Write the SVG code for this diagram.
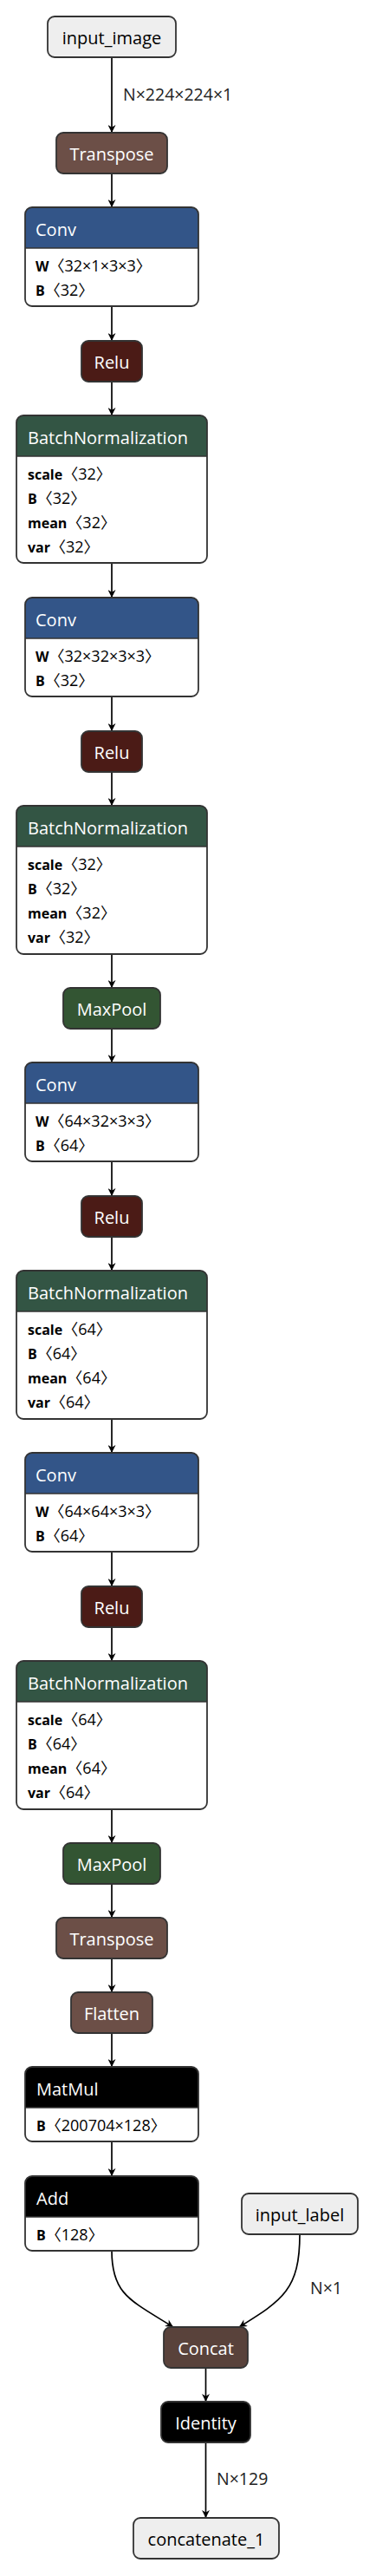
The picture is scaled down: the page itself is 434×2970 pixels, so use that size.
<svg xmlns="http://www.w3.org/2000/svg" width="434" height="2970" viewBox="0 0 434 2970">
<style>
.bg{fill:#fff}
.box{fill:none;stroke:#333;stroke-width:1.8}
.in{fill:#eee;stroke:#333;stroke-width:1.8}
.body{fill:#fff}
.sep{stroke:#333;stroke-width:1.5}
.t{font-family:"Open Sans","Noto Sans",sans-serif;font-size:20px}
.w{fill:#fff}
.k{fill:#000}
.c{text-anchor:middle}
.a{font-family:"Open Sans","Noto Sans","Noto Sans CJK SC",sans-serif;font-size:18px;fill:#000}
.a .n{font-weight:bold;font-size:16px}
.lbl{font-family:"Open Sans","Noto Sans",sans-serif;font-size:19.5px;fill:#222}
.e{fill:none;stroke:#000;stroke-width:1.7}
.layer{fill:#335588}.act{fill:#4b1b16}.norm{fill:#335544}.pool{fill:#335533}.shape{fill:#6c4f47}.tensor{fill:#59423b}.def{fill:#000}
</style>
<defs>
<marker id="arr" viewBox="0 0 10 10" refX="10" refY="5" markerWidth="10" markerHeight="9" markerUnits="userSpaceOnUse" orient="auto">
<path d="M0,0 L10,5 L0,10 L3,5 z" fill="#000"/>
</marker>
</defs>
<rect class="bg" x="0" y="0" width="434" height="2970"/>

<g id="edges">
<line class="e" x1="129" y1="66" x2="129" y2="153" marker-end="url(#arr)"/>
<text class="lbl" x="142" y="116">N×224×224×1</text>
<line class="e" x1="129" y1="200" x2="129" y2="239" marker-end="url(#arr)"/>
<line class="e" x1="129" y1="353" x2="129" y2="393" marker-end="url(#arr)"/>
<line class="e" x1="129" y1="440" x2="129" y2="479" marker-end="url(#arr)"/>
<line class="e" x1="129" y1="649" x2="129" y2="689" marker-end="url(#arr)"/>
<line class="e" x1="129" y1="803" x2="129" y2="843" marker-end="url(#arr)"/>
<line class="e" x1="129" y1="890" x2="129" y2="929" marker-end="url(#arr)"/>
<line class="e" x1="129" y1="1100" x2="129" y2="1139" marker-end="url(#arr)"/>
<line class="e" x1="129" y1="1186" x2="129" y2="1225" marker-end="url(#arr)"/>
<line class="e" x1="129" y1="1339" x2="129" y2="1379" marker-end="url(#arr)"/>
<line class="e" x1="129" y1="1426" x2="129" y2="1465" marker-end="url(#arr)"/>
<line class="e" x1="129" y1="1636" x2="129" y2="1675" marker-end="url(#arr)"/>
<line class="e" x1="129" y1="1789" x2="129" y2="1829" marker-end="url(#arr)"/>
<line class="e" x1="129" y1="1876" x2="129" y2="1915" marker-end="url(#arr)"/>
<line class="e" x1="129" y1="2086" x2="129" y2="2125" marker-end="url(#arr)"/>
<line class="e" x1="129" y1="2172" x2="129" y2="2211" marker-end="url(#arr)"/>
<line class="e" x1="129" y1="2258" x2="129" y2="2297" marker-end="url(#arr)"/>
<line class="e" x1="129" y1="2344" x2="129" y2="2383" marker-end="url(#arr)"/>
<line class="e" x1="129" y1="2469" x2="129" y2="2509" marker-end="url(#arr)"/>
<path class="e" d="M129,2595 C129,2645 150,2652 200,2683" marker-end="url(#arr)"/>
<path class="e" d="M346,2576 C346,2640 326,2652 276,2683" marker-end="url(#arr)"/>
<text class="lbl" x="358" y="2645">N×1</text>
<line class="e" x1="237.5" y1="2730" x2="237.5" y2="2769" marker-end="url(#arr)"/>
<line class="e" x1="237.5" y1="2816" x2="237.5" y2="2903" marker-end="url(#arr)"/>
<text class="lbl" x="250" y="2865">N×129</text>
</g>

<g id="input_image">
<rect class="in" x="55" y="19" width="148" height="47" rx="8"/>
<text class="t k c" x="129" y="51">input_image</text>
</g>

<g id="transpose_1">
<rect class="shape" x="65" y="153" width="128" height="47" rx="8"/>
<rect class="box" x="65" y="153" width="128" height="47" rx="8"/>
<text class="t w c" x="129" y="185">Transpose</text>
</g>

<g id="conv_1">
<rect class="body" x="29" y="239" width="200" height="114" rx="8"/>
<path class="layer" d="M29,286 V247 Q29,239 37,239 H221 Q229,239 229,247 V286 Z"/>
<line class="sep" x1="29" y1="286" x2="229" y2="286"/>
<rect class="box" x="29" y="239" width="200" height="114" rx="8"/>
<text class="t w" x="41" y="272">Conv</text>
<text class="a" x="41" y="313"><tspan class="n">W</tspan>〈32×1×3×3〉</text>
<text class="a" x="41" y="341"><tspan class="n">B</tspan>〈32〉</text>
</g>

<g id="relu_1">
<rect class="act" x="94" y="393" width="70" height="47" rx="8"/>
<rect class="box" x="94" y="393" width="70" height="47" rx="8"/>
<text class="t w c" x="129" y="425">Relu</text>
</g>

<g id="bn_1">
<rect class="body" x="19" y="479" width="220" height="170" rx="8"/>
<path class="norm" d="M19,526 V487 Q19,479 27,479 H231 Q239,479 239,487 V526 Z"/>
<line class="sep" x1="19" y1="526" x2="239" y2="526"/>
<rect class="box" x="19" y="479" width="220" height="170" rx="8"/>
<text class="t w" x="32" y="512">BatchNormalization</text>
<text class="a" x="32" y="553"><tspan class="n">scale</tspan>〈32〉</text>
<text class="a" x="32" y="581"><tspan class="n">B</tspan>〈32〉</text>
<text class="a" x="32" y="609"><tspan class="n">mean</tspan>〈32〉</text>
<text class="a" x="32" y="637"><tspan class="n">var</tspan>〈32〉</text>
</g>

<g id="conv_2">
<rect class="body" x="29" y="689" width="200" height="114" rx="8"/>
<path class="layer" d="M29,736 V697 Q29,689 37,689 H221 Q229,689 229,697 V736 Z"/>
<line class="sep" x1="29" y1="736" x2="229" y2="736"/>
<rect class="box" x="29" y="689" width="200" height="114" rx="8"/>
<text class="t w" x="41" y="722">Conv</text>
<text class="a" x="41" y="763"><tspan class="n">W</tspan>〈32×32×3×3〉</text>
<text class="a" x="41" y="791"><tspan class="n">B</tspan>〈32〉</text>
</g>

<g id="relu_2">
<rect class="act" x="94" y="843" width="70" height="47" rx="8"/>
<rect class="box" x="94" y="843" width="70" height="47" rx="8"/>
<text class="t w c" x="129" y="875">Relu</text>
</g>

<g id="bn_2">
<rect class="body" x="19" y="929" width="220" height="171" rx="8"/>
<path class="norm" d="M19,976 V937 Q19,929 27,929 H231 Q239,929 239,937 V976 Z"/>
<line class="sep" x1="19" y1="976" x2="239" y2="976"/>
<rect class="box" x="19" y="929" width="220" height="171" rx="8"/>
<text class="t w" x="32" y="962">BatchNormalization</text>
<text class="a" x="32" y="1003"><tspan class="n">scale</tspan>〈32〉</text>
<text class="a" x="32" y="1031"><tspan class="n">B</tspan>〈32〉</text>
<text class="a" x="32" y="1059"><tspan class="n">mean</tspan>〈32〉</text>
<text class="a" x="32" y="1087"><tspan class="n">var</tspan>〈32〉</text>
</g>

<g id="maxpool_1">
<rect class="pool" x="73" y="1139" width="112" height="47" rx="8"/>
<rect class="box" x="73" y="1139" width="112" height="47" rx="8"/>
<text class="t w c" x="129" y="1171">MaxPool</text>
</g>

<g id="conv_3">
<rect class="body" x="29" y="1225" width="200" height="114" rx="8"/>
<path class="layer" d="M29,1272 V1233 Q29,1225 37,1225 H221 Q229,1225 229,1233 V1272 Z"/>
<line class="sep" x1="29" y1="1272" x2="229" y2="1272"/>
<rect class="box" x="29" y="1225" width="200" height="114" rx="8"/>
<text class="t w" x="41" y="1258">Conv</text>
<text class="a" x="41" y="1299"><tspan class="n">W</tspan>〈64×32×3×3〉</text>
<text class="a" x="41" y="1327"><tspan class="n">B</tspan>〈64〉</text>
</g>

<g id="relu_3">
<rect class="act" x="94" y="1379" width="70" height="47" rx="8"/>
<rect class="box" x="94" y="1379" width="70" height="47" rx="8"/>
<text class="t w c" x="129" y="1411">Relu</text>
</g>

<g id="bn_3">
<rect class="body" x="19" y="1465" width="220" height="171" rx="8"/>
<path class="norm" d="M19,1512 V1473 Q19,1465 27,1465 H231 Q239,1465 239,1473 V1512 Z"/>
<line class="sep" x1="19" y1="1512" x2="239" y2="1512"/>
<rect class="box" x="19" y="1465" width="220" height="171" rx="8"/>
<text class="t w" x="32" y="1498">BatchNormalization</text>
<text class="a" x="32" y="1539"><tspan class="n">scale</tspan>〈64〉</text>
<text class="a" x="32" y="1567"><tspan class="n">B</tspan>〈64〉</text>
<text class="a" x="32" y="1595"><tspan class="n">mean</tspan>〈64〉</text>
<text class="a" x="32" y="1623"><tspan class="n">var</tspan>〈64〉</text>
</g>

<g id="conv_4">
<rect class="body" x="29" y="1675" width="200" height="114" rx="8"/>
<path class="layer" d="M29,1722 V1683 Q29,1675 37,1675 H221 Q229,1675 229,1683 V1722 Z"/>
<line class="sep" x1="29" y1="1722" x2="229" y2="1722"/>
<rect class="box" x="29" y="1675" width="200" height="114" rx="8"/>
<text class="t w" x="41" y="1708">Conv</text>
<text class="a" x="41" y="1749"><tspan class="n">W</tspan>〈64×64×3×3〉</text>
<text class="a" x="41" y="1777"><tspan class="n">B</tspan>〈64〉</text>
</g>

<g id="relu_4">
<rect class="act" x="94" y="1829" width="70" height="47" rx="8"/>
<rect class="box" x="94" y="1829" width="70" height="47" rx="8"/>
<text class="t w c" x="129" y="1861">Relu</text>
</g>

<g id="bn_4">
<rect class="body" x="19" y="1915" width="220" height="171" rx="8"/>
<path class="norm" d="M19,1962 V1923 Q19,1915 27,1915 H231 Q239,1915 239,1923 V1962 Z"/>
<line class="sep" x1="19" y1="1962" x2="239" y2="1962"/>
<rect class="box" x="19" y="1915" width="220" height="171" rx="8"/>
<text class="t w" x="32" y="1948">BatchNormalization</text>
<text class="a" x="32" y="1989"><tspan class="n">scale</tspan>〈64〉</text>
<text class="a" x="32" y="2017"><tspan class="n">B</tspan>〈64〉</text>
<text class="a" x="32" y="2045"><tspan class="n">mean</tspan>〈64〉</text>
<text class="a" x="32" y="2073"><tspan class="n">var</tspan>〈64〉</text>
</g>

<g id="maxpool_2">
<rect class="pool" x="73" y="2125" width="112" height="47" rx="8"/>
<rect class="box" x="73" y="2125" width="112" height="47" rx="8"/>
<text class="t w c" x="129" y="2157">MaxPool</text>
</g>

<g id="transpose_2">
<rect class="shape" x="65" y="2211" width="128" height="47" rx="8"/>
<rect class="box" x="65" y="2211" width="128" height="47" rx="8"/>
<text class="t w c" x="129" y="2243">Transpose</text>
</g>

<g id="flatten">
<rect class="shape" x="82" y="2297" width="94" height="47" rx="8"/>
<rect class="box" x="82" y="2297" width="94" height="47" rx="8"/>
<text class="t w c" x="129" y="2329">Flatten</text>
</g>

<g id="matmul">
<rect class="body" x="29" y="2383" width="200" height="86" rx="8"/>
<path class="def" d="M29,2430 V2391 Q29,2383 37,2383 H221 Q229,2383 229,2391 V2430 Z"/>
<line class="sep" x1="29" y1="2430" x2="229" y2="2430"/>
<rect class="box" x="29" y="2383" width="200" height="86" rx="8"/>
<text class="t w" x="42" y="2416">MatMul</text>
<text class="a" x="42" y="2457"><tspan class="n">B</tspan>〈200704×128〉</text>
</g>

<g id="add">
<rect class="body" x="29" y="2509" width="200" height="86" rx="8"/>
<path class="def" d="M29,2556 V2517 Q29,2509 37,2509 H221 Q229,2509 229,2517 V2556 Z"/>
<line class="sep" x1="29" y1="2556" x2="229" y2="2556"/>
<rect class="box" x="29" y="2509" width="200" height="86" rx="8"/>
<text class="t w" x="42" y="2542">Add</text>
<text class="a" x="42" y="2583"><tspan class="n">B</tspan>〈128〉</text>
</g>

<g id="input_label">
<rect class="in" x="279" y="2529" width="134" height="47" rx="8"/>
<text class="t k c" x="346" y="2561">input_label</text>
</g>

<g id="concat">
<rect class="tensor" x="189" y="2683" width="97" height="47" rx="8"/>
<rect class="box" x="189" y="2683" width="97" height="47" rx="8"/>
<text class="t w c" x="237.5" y="2715">Concat</text>
</g>

<g id="identity">
<rect class="def" x="186" y="2769" width="103" height="47" rx="8"/>
<rect class="box" x="186" y="2769" width="103" height="47" rx="8"/>
<text class="t w c" x="237.5" y="2801">Identity</text>
</g>

<g id="concatenate_1">
<rect class="in" x="154" y="2903" width="168" height="47" rx="8"/>
<text class="t k c" x="238" y="2935">concatenate_1</text>
</g>
</svg>
